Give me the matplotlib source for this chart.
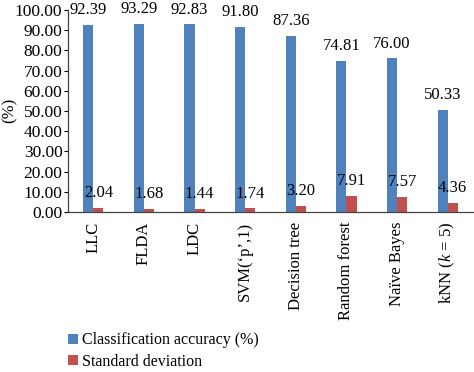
import matplotlib
matplotlib.use("Agg")
import matplotlib.pyplot as plt
import numpy as np

categories = ["LLC", "FLDA", "LDC", "SVM(\u2018p\u2019,1)", "Decision tree",
              "Random forest", "Na\u00efve Bayes", "kNN ($\\mathit{k}$ = 5)"]
accuracy = [92.39, 93.29, 92.83, 91.80, 87.36, 74.81, 76.00, 50.33]
std_dev = [2.04, 1.68, 1.44, 1.74, 3.20, 7.91, 7.57, 4.36]
series_names = ["Classification accuracy (%)", "Standard deviation"]
yticks = [0, 10, 20, 30, 40, 50, 60, 70, 80, 90, 100]

plt.rcParams['font.family'] = ['Liberation Serif', 'DejaVu Serif']
plt.rcParams['mathtext.fontset'] = 'custom'
plt.rcParams['mathtext.it'] = 'Liberation Serif:italic'
plt.rcParams['mathtext.rm'] = 'Liberation Serif'

blue = '#4F81BD'
red = '#C0504D'

fig = plt.figure(figsize=(4.74, 3.72), dpi=100)
ax = fig.add_axes([68/474, 1-212/372, (473-68)/474, (212-10)/372])

x = np.arange(len(categories))
w = 0.2
b1 = ax.bar(x - w/2, accuracy, w, color=blue, label=series_names[0])
b2 = ax.bar(x + w/2, std_dev, w, color=red, label=series_names[1])

for rect, v in zip(b1, accuracy):
    ax.annotate(f"{v:.2f}", (rect.get_x() + rect.get_width()/2, v),
                xytext=(0, 5), textcoords='offset points',
                ha='center', va='bottom', fontsize=12, color='black')
for rect, v in zip(b2, std_dev):
    ax.annotate(f"{v:.2f}", (rect.get_x() + rect.get_width()/2, v),
                xytext=(0, 5), textcoords='offset points',
                ha='center', va='bottom', fontsize=12, color='black')

ax.set_xlim(-0.5, len(categories) - 0.5)
ax.set_ylim(0, 100)
ax.set_yticks(yticks)
ax.set_yticklabels([f"{t:.2f}" for t in yticks], fontsize=12.5)
ax.set_xticks(x)
ax.set_xticklabels(categories, rotation=90, fontsize=12)
ax.tick_params(axis='x', length=0, pad=7)
ax.tick_params(axis='y', length=3, width=0.8, pad=1, direction='out')
for s in ['top', 'right']:
    ax.spines[s].set_visible(False)
ax.spines['left'].set_color('#444444')
ax.spines['bottom'].set_color('#444444')
ax.spines['left'].set_linewidth(0.9)
ax.spines['bottom'].set_linewidth(0.9)

fig.text(10/474, 1-110/372, "(%)", rotation=90, ha='center', va='center', fontsize=12)

fig.legend(handles=[b1, b2], labels=series_names, loc='center left',
           bbox_to_anchor=(68/474, 1-351/372), frameon=False, fontsize=11.5,
           handlelength=0.6, handleheight=0.6, handletextpad=0.3,
           labelspacing=0.35, borderpad=0, borderaxespad=0)

fig.savefig("out.png", dpi=100)
